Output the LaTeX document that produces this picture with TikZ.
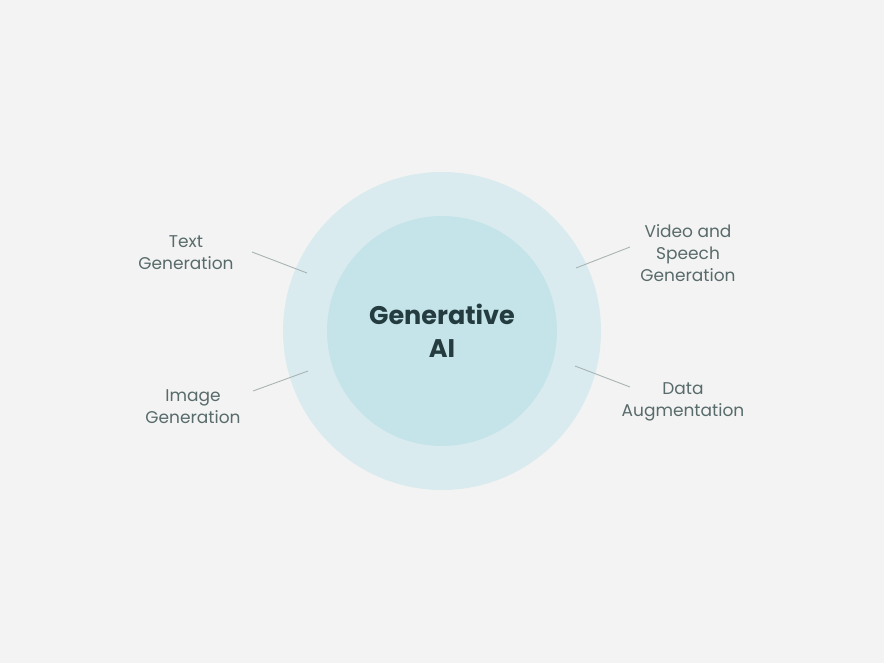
\documentclass[tikz,border=0pt]{standalone}
\usepackage{fontspec}
\setmainfont{Poppins}
\definecolor{bg}{HTML}{F3F3F3}
\definecolor{outerc}{HTML}{D9EBEF}
\definecolor{innerc}{HTML}{C4E4EA}
\definecolor{labc}{HTML}{586A6A}
\definecolor{cenc}{HTML}{243C40}
\definecolor{linec}{HTML}{A8B4B4}
\tikzset{
  lab/.style={text=labc, font=\fontsize{17}{22}\selectfont, align=center, inner sep=0pt},
  conn/.style={draw=linec, line width=0.9pt},
}
\begin{document}
\begin{tikzpicture}[x=1pt,y=-1pt]
\fill[bg] (0,0) rectangle (884,663);
\useasboundingbox (0,0) rectangle (884,663);
\fill[outerc] (442,331) circle (159);
\fill[innerc] (442,331) circle (115);
\node[text=cenc, font=\bfseries\fontsize{25.5}{33}\selectfont, align=center, inner sep=0pt] (center) at (442,331) {Generative\\AI};
\node[lab] (text) at (186,253) {Text\\Generation};
\node[lab] (video) at (688,253) {Video and\\Speech\\Generation};
\node[lab] (image) at (193,407) {Image\\Generation};
\node[lab] (data) at (683,402) {Data\\Augmentation};
\coordinate (t1) at (252,252); \coordinate (t2) at (307,273);
\coordinate (v1) at (630,247); \coordinate (v2) at (576,268);
\coordinate (i1) at (253,391); \coordinate (i2) at (308,371);
\coordinate (d1) at (630,387); \coordinate (d2) at (575,366);
\draw[conn] (t1) -- (t2);
\draw[conn] (v1) -- (v2);
\draw[conn] (i1) -- (i2);
\draw[conn] (d1) -- (d2);
\end{tikzpicture}
\end{document}
